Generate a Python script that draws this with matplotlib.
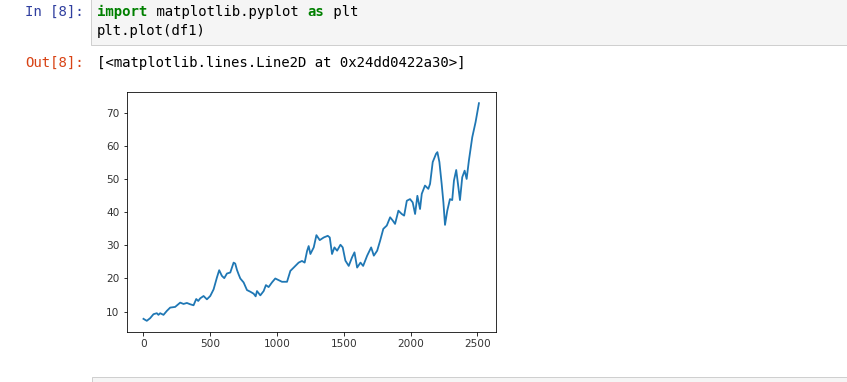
import matplotlib.pyplot as plt
from matplotlib.patches import Rectangle

# values (index, price)
idx = [0, 12, 25, 50, 75, 100, 112, 125, 150, 175, 200, 237, 275, 300, 325, 350, 375, 395, 410, 425,
       450, 475, 500, 525, 550, 567, 587, 605, 625, 650, 675, 687, 700, 712, 725, 750, 775, 800, 825, 840,
       850, 875, 900, 917, 937, 962, 987, 1012, 1037, 1075, 1100, 1125, 1162, 1187, 1207, 1225, 1237, 1250,
       1275, 1295, 1320, 1350, 1380, 1395, 1412, 1430, 1450, 1475, 1492, 1512, 1537, 1562, 1580, 1600,
       1625, 1645, 1675, 1705, 1725, 1750, 1772, 1796, 1822, 1847, 1867, 1884, 1909, 1934, 1952, 1972,
       1996, 2016, 2034, 2051, 2071, 2084, 2108, 2133, 2146, 2166, 2191, 2201, 2216, 2233, 2246, 2258,
       2275, 2295, 2312, 2325, 2342, 2355, 2370, 2387, 2405, 2420, 2437, 2462, 2487, 2512]
vals = [7.8, 7.5, 7.2, 8.0, 9.2, 9.5, 9.0, 9.5, 9.0, 10.2, 11.2, 11.4, 12.7, 12.3, 12.6, 12.2, 11.9, 13.8,
        13.2, 14.0, 14.7, 13.7, 14.7, 16.7, 20.3, 22.5, 20.8, 20.1, 21.5, 21.8, 24.8, 24.5, 22.6, 21.3,
        20.0, 18.8, 16.5, 16.0, 15.4, 14.6, 16.2, 14.9, 16.2, 18.0, 17.4, 18.8, 20.0, 19.5, 19.0, 19.0,
        22.3, 23.3, 24.8, 25.3, 24.8, 28.3, 29.8, 27.4, 29.4, 33.1, 31.6, 32.4, 32.9, 32.4, 27.4, 29.4,
        28.4, 30.2, 29.4, 25.4, 23.8, 26.4, 27.9, 23.3, 24.8, 23.8, 26.9, 29.4, 26.9, 28.4, 31.4, 35.0,
        36.0, 38.5, 37.5, 36.5, 40.5, 39.5, 39.0, 43.5, 44.0, 43.0, 39.5, 45.0, 41.0, 45.6, 48.1, 47.1,
        48.6, 55.2, 57.7, 58.2, 55.2, 48.6, 43.0, 36.2, 40.5, 44.0, 43.7, 49.6, 52.8, 48.6, 43.7, 50.6,
        52.6, 50.1, 55.7, 62.7, 67.3, 73.0]

code_line1 = [('import', '#008000', 'bold'), (' matplotlib.pyplot ', '#000000', 'normal'),
              ('as', '#008000', 'bold'), (' plt', '#000000', 'normal')]
code_line2 = 'plt.plot(df1)'
out_text = '[<matplotlib.lines.Line2D at 0x24dd0422a30>]'

W, H = 847, 382
fig = plt.figure(figsize=(W / 72, H / 72), dpi=72)


def fx(px):
    return px / W


def fy(py):
    return 1 - py / H


# notebook cells
fig.add_artist(Rectangle((fx(91), fy(45)), fx(W) - fx(91) + 0.01, fy(-5) - fy(45),
                         transform=fig.transFigure, facecolor='#f5f5f5', edgecolor='#cfcfcf', lw=1))
fig.add_artist(Rectangle((fx(92), fy(H + 5)), 1, fy(377) - fy(H + 5),
                         transform=fig.transFigure, facecolor='#f5f5f5', edgecolor='#cfcfcf', lw=1))

mono = 'DejaVu Sans Mono'
cw = 0.602 * 14  # char width in px
fig.text(fx(84), fy(12), 'In [8]:', color='#303F9F', family=mono, fontsize=14, ha='right', va='center')
x = 97
for s, c, wgt in code_line1:
    fig.text(fx(x), fy(12), s, color=c, family=mono, fontsize=14, weight=wgt, ha='left', va='center')
    x += len(s) * cw
fig.text(fx(97), fy(31), code_line2, color='#000000', family=mono, fontsize=14, ha='left', va='center')
fig.text(fx(84), fy(63), 'Out[8]:', color='#D84315', family=mono, fontsize=14, ha='right', va='center')
fig.text(fx(97), fy(63), out_text, color='#000000', family=mono, fontsize=14, ha='left', va='center')

# the plot itself
ax = fig.add_axes([fx(126.7), fy(331.7), fx(495.7) - fx(126.7), fy(92.3) - fy(331.7)])
ax.plot(idx, vals, color='#1f77b4', lw=1.8)
ax.set_xticks([0, 500, 1000, 1500, 2000, 2500])
ax.set_yticks([10, 20, 30, 40, 50, 60, 70])
ax.tick_params(labelsize=10.5, labelcolor='#333333')

fig.savefig('out.png', dpi=72)
